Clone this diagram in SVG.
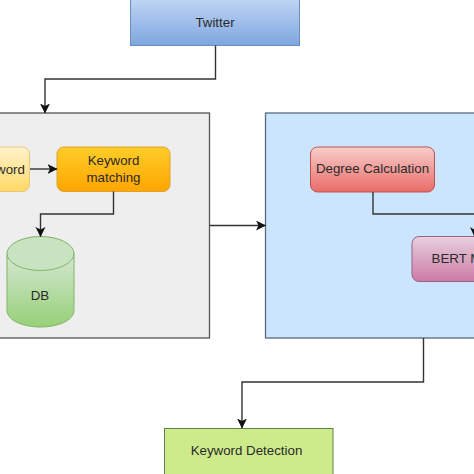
<svg xmlns="http://www.w3.org/2000/svg" width="474" height="474" viewBox="0 0 474 474">
<style>
text{font-family:"Liberation Sans",Arial,sans-serif;font-size:13.3px;fill:#2a2a2a;text-anchor:middle}
.c{fill:none;stroke:#333;stroke-width:1.4}
</style>
<defs>
<marker id="a" markerUnits="userSpaceOnUse" markerWidth="11" markerHeight="11" refX="9.5" refY="5" orient="auto"><path d="M0 0L10 5L0 10L2.5 5Z" fill="#111"/></marker>
<linearGradient id="gb" x1="0" y1="0" x2="0" y2="1"><stop offset="0" stop-color="#dae8fc"/><stop offset="1" stop-color="#7ea6e0"/></linearGradient>
<linearGradient id="gy" x1="0" y1="0" x2="0" y2="1"><stop offset="0" stop-color="#fff2cc"/><stop offset="1" stop-color="#ffd966"/></linearGradient>
<linearGradient id="go" x1="0" y1="0" x2="0" y2="1"><stop offset="0" stop-color="#ffcd28"/><stop offset="1" stop-color="#ffa500"/></linearGradient>
<linearGradient id="gg" x1="0" y1="0" x2="0" y2="1"><stop offset="0" stop-color="#d5e8d4"/><stop offset="1" stop-color="#97d077"/></linearGradient>
<linearGradient id="gr" x1="0" y1="0" x2="0" y2="1"><stop offset="0" stop-color="#f8cecc"/><stop offset="1" stop-color="#ea6b66"/></linearGradient>
<linearGradient id="gp" x1="0" y1="0" x2="0" y2="1"><stop offset="0" stop-color="#e6d0de"/><stop offset="1" stop-color="#cd7ba5"/></linearGradient>
</defs>
<g id="twitter"><rect x="130.500" y="-20" width="169" height="65.500" fill="url(#gb)" stroke="#6c8ebf"/><text x="215" y="26.500">Twitter</text></g>
<g id="left-panel"><rect x="-40" y="113" width="249.500" height="225" fill="#eeeeee" stroke="#555" stroke-width="1.300"/></g>
<g id="right-panel"><rect x="265.500" y="113" width="240" height="225" fill="#cce5ff" stroke="#5a6b7c" stroke-width="1.300"/></g>
<g id="keyword"><rect x="-57" y="147" width="86.500" height="44.500" rx="7" fill="url(#gy)" stroke="#e8c878"/><text x="-1" y="173.500">Keyword</text></g>
<g id="keyword-matching"><rect x="57" y="147" width="113" height="44.500" rx="7" fill="url(#go)" stroke="#e0a030"/><text x="113.500" y="165">Keyword</text><text x="113.500" y="182">matching</text></g>
<g id="db"><path d="M7 253V310C7 321 24 327 40.500 327S74 321 74 310V253Z" fill="url(#gg)" stroke="#82b366"/><ellipse cx="40.500" cy="253.500" rx="33.500" ry="17" fill="#c8e3c2" stroke="#82b366"/><text x="40" y="300">DB</text></g>
<g id="degree-calculation"><rect x="310.500" y="147" width="124" height="45" rx="7" fill="url(#gr)" stroke="#b85450"/><text x="372.500" y="173">Degree Calculation</text></g>
<g id="bert"><rect x="412" y="236.500" width="124" height="45" rx="7" fill="url(#gp)" stroke="#996185"/><text x="469" y="262.500">BERT Model</text></g>
<g id="keyword-detection"><rect x="164.500" y="428.500" width="168.500" height="65" fill="#cdeb8b" stroke="#5f7f4a"/><text x="246.500" y="454.500">Keyword Detection</text></g>
<g id="connectors">
<path class="c" d="M215.500 45.500V79H45V113" marker-end="url(#a)"/>
<path class="c" d="M30 169H57" marker-end="url(#a)"/>
<path class="c" d="M113.500 191.500V214H40.500V236.500" marker-end="url(#a)"/>
<path class="c" d="M209.500 225.500H265.500" marker-end="url(#a)"/>
<path class="c" d="M373 192V214H474"/>
<path class="c" d="M423.500 338V382H242V428" marker-end="url(#a)"/>
<path d="M470 227L474 229.500V236Z" fill="#111"/>
</g>
</svg>
